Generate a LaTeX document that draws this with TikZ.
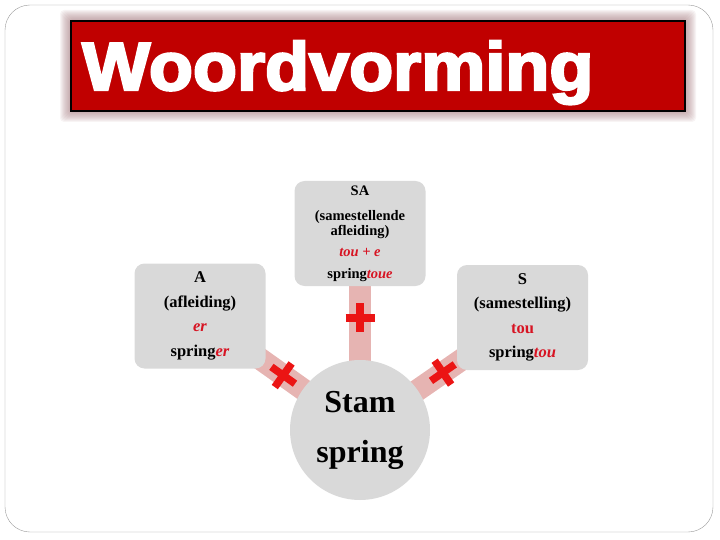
\documentclass[tikz,border=0pt]{standalone}
\usepackage{fontspec}
\setmainfont{Liberation Serif}
\newfontfamily\titlefont{Liberation Sans}[BoldFeatures={FakeBold=3.5}]
\usetikzlibrary{shapes.misc,fit,backgrounds}
\definecolor{boxgray}{RGB}{217,217,217}
\definecolor{barred}{RGB}{230,180,178}
\definecolor{plusred}{RGB}{235,20,20}
\definecolor{txtred}{RGB}{215,20,35}
\definecolor{titlered}{RGB}{192,0,0}
\definecolor{glowc}{RGB}{160,115,120}
\newcommand{\wvred}[1]{\textcolor{txtred}{#1}}
\newcommand{\wvfont}[2]{\bfseries\fontsize{#1}{#2}\selectfont}

\begin{document}
\begin{tikzpicture}[x=1pt,y=-1pt,
	wbox/.style={fill=boxgray, rounded corners=10pt, minimum width=131pt, minimum height=105pt, align=center, inner sep=0pt},
	bar/.style={draw=barred, line width=22pt},
	plusmark/.style={cross out, draw=plusred, line width=7.5pt, minimum size=13pt, inner sep=0pt, rotate=45}]
	\useasboundingbox (0,0) rectangle (720,540);
	\draw [gray!80, rounded corners=25pt] (5,5) rectangle (713,532);
	% title
	\node [draw=black, line width=2pt, fill=titlered, minimum width=614pt, minimum height=90pt, inner sep=0pt] (title) at (378,66) {};
	\node [anchor=base west, text=white, inner sep=0pt, font=\titlefont\bfseries\fontsize{68}{68}\selectfont] (titletext) at (82,90) {\scalebox{1.06}[1]{Woordvorming}};
	% boxes
	\node [wbox, font=\wvfont{16.5}{24.5}] (a) at (200,316) {A\\(afleiding)\\\wvred{\textit{er}}\\spring\wvred{\textit{er}}};
	\node [wbox, font=\wvfont{14.5}{15}] (sa) at (360,233.5) {SA\\[10pt](samestellende\\afleiding)\\[6pt]\wvred{\textit{tou + e}}\\[7pt]spring\wvred{\textit{toue}}};
	\node [wbox, font=\wvfont{16.5}{24.5}] (s) at (522.5,317.5) {S\\(samestelling)\\\wvred{tou}\\spring\wvred{\textit{tou}}};
	\node [circle, fill=boxgray, minimum size=140pt, inner sep=0pt, align=center, font=\wvfont{32}{50}] (stam) at (360,430) {Stam\\spring};
	\begin{pgfonlayer}{background}
		\foreach \g in {1,...,10}
			\node [fit=(title), inner sep=\g pt, fill=glowc, fill opacity=0.08, rounded corners=4pt] (glow\g) {};
		\draw [bar] (a.center) -- (stam.center) node [plusmark, sloped, pos=.52] (pa) {};
		\draw [bar] (sa.center) -- (stam.center) node [plusmark, sloped, pos=.43] (psa) {};
		\draw [bar] (s.center) -- (stam.center) node [plusmark, sloped, pos=.49] (ps) {};
	\end{pgfonlayer}
\end{tikzpicture}
\end{document}
